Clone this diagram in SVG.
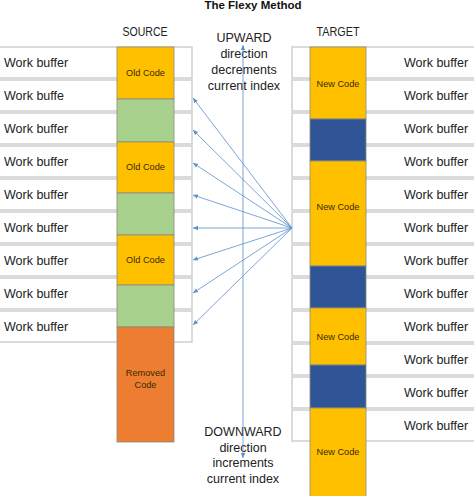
<svg xmlns="http://www.w3.org/2000/svg" width="474" height="496" viewBox="0 0 474 496">
<defs>
<marker id="ah" markerWidth="6" markerHeight="6" refX="5" refY="3" orient="auto" markerUnits="userSpaceOnUse">
<path d="M0,0.8 L5,3 L0,5.2 Z" fill="#5b8fc9"/>
</marker>
<style>
.row{fill:#fff;stroke:#cfcfcf;stroke-width:1.5}
.wb{font-family:"Liberation Sans",Arial,sans-serif;font-size:12.5px;fill:#222}
.hd{font-family:"Liberation Sans",Arial,sans-serif;font-size:12px;fill:#222;text-anchor:middle}
.small{font-family:"Liberation Sans",Arial,sans-serif;font-size:9.2px;fill:#3a2a00;text-anchor:middle}
.blk{stroke:#8a8a7a;stroke-width:0.8}
.old{fill:#ffc000}
.grn{fill:#a9d18e}
.rem{fill:#ed7d31}
.blu{fill:#2f5597}
.conn{stroke:#5b8fc9;stroke-width:0.8;fill:none}
.note{font-family:"Liberation Sans",Arial,sans-serif;font-size:12.5px;fill:#222;text-anchor:middle}
</style>
</defs>
<rect width="474" height="496" fill="#fff"/>
<text x="253" y="9" font-family="'Liberation Sans',Arial,sans-serif" font-size="11.5" font-weight="bold" text-anchor="middle" fill="#111">The Flexy Method</text>
<text class="hd" x="145" y="36" textLength="45" lengthAdjust="spacingAndGlyphs">SOURCE</text>
<text class="hd" x="338" y="36" textLength="43" lengthAdjust="spacingAndGlyphs">TARGET</text>

<g id="source-rows">
<rect class="row" x="-2" y="47" width="194" height="31"/>
<rect class="row" x="-2" y="80" width="194" height="31"/>
<rect class="row" x="-2" y="113" width="194" height="31"/>
<rect class="row" x="-2" y="146" width="194" height="31"/>
<rect class="row" x="-2" y="179" width="194" height="31"/>
<rect class="row" x="-2" y="212" width="194" height="31"/>
<rect class="row" x="-2" y="245" width="194" height="31"/>
<rect class="row" x="-2" y="278" width="194" height="31"/>
<rect class="row" x="-2" y="311" width="194" height="31"/>
<text class="wb" x="4" y="67">Work buffer</text>
<text class="wb" x="4" y="100">Work buffe</text>
<text class="wb" x="4" y="133">Work buffer</text>
<text class="wb" x="4" y="166">Work buffer</text>
<text class="wb" x="4" y="199">Work buffer</text>
<text class="wb" x="4" y="232">Work buffer</text>
<text class="wb" x="4" y="265">Work buffer</text>
<text class="wb" x="4" y="298">Work buffer</text>
<text class="wb" x="4" y="331">Work buffer</text>
</g>

<g id="source-column">
<rect class="blk old" x="117" y="47" width="57" height="52"/>
<rect class="blk grn" x="117" y="99" width="57" height="43"/>
<rect class="blk old" x="117" y="142" width="57" height="51"/>
<rect class="blk grn" x="117" y="193" width="57" height="42"/>
<rect class="blk old" x="117" y="235" width="57" height="50"/>
<rect class="blk grn" x="117" y="285" width="57" height="42"/>
<rect class="blk rem" x="117" y="327" width="57" height="115"/>
<text class="small" x="145.5" y="76">Old Code</text>
<text class="small" x="145.5" y="170">Old Code</text>
<text class="small" x="145.5" y="263">Old Code</text>
<text class="small" x="145.5" y="376">Removed</text>
<text class="small" x="145.5" y="388">Code</text>
</g>

<g id="target-rows">
<rect class="row" x="292" y="47" width="190" height="31"/>
<rect class="row" x="292" y="80" width="190" height="31"/>
<rect class="row" x="292" y="113" width="190" height="31"/>
<rect class="row" x="292" y="146" width="190" height="31"/>
<rect class="row" x="292" y="179" width="190" height="31"/>
<rect class="row" x="292" y="212" width="190" height="31"/>
<rect class="row" x="292" y="245" width="190" height="31"/>
<rect class="row" x="292" y="278" width="190" height="31"/>
<rect class="row" x="292" y="311" width="190" height="31"/>
<rect class="row" x="292" y="344" width="190" height="31"/>
<rect class="row" x="292" y="377" width="190" height="31"/>
<rect class="row" x="292" y="410" width="190" height="31"/>
<text class="wb" x="404" y="67">Work buffer</text>
<text class="wb" x="404" y="100">Work buffer</text>
<text class="wb" x="404" y="133">Work buffer</text>
<text class="wb" x="404" y="166">Work buffer</text>
<text class="wb" x="404" y="199">Work buffer</text>
<text class="wb" x="404" y="232">Work buffer</text>
<text class="wb" x="404" y="265">Work buffer</text>
<text class="wb" x="404" y="298">Work buffer</text>
<text class="wb" x="404" y="331">Work buffer</text>
<text class="wb" x="404" y="364">Work buffer</text>
<text class="wb" x="404" y="397">Work buffer</text>
<text class="wb" x="404" y="430">Work buffer</text>
</g>

<g id="target-column">
<rect class="blk old" x="310" y="47" width="56" height="72"/>
<rect class="blk blu" x="310" y="119" width="56" height="42"/>
<rect class="blk old" x="310" y="161" width="56" height="105"/>
<rect class="blk blu" x="310" y="266" width="56" height="42"/>
<rect class="blk old" x="310" y="308" width="56" height="57"/>
<rect class="blk blu" x="310" y="365" width="56" height="43"/>
<rect class="blk old" x="310" y="408" width="56" height="92"/>
<text class="small" x="338" y="87">New Code</text>
<text class="small" x="338" y="210">New Code</text>
<text class="small" x="338" y="340">New Code</text>
<text class="small" x="338" y="455">New Code</text>
</g>

<g id="notes">
<text class="note" x="244" y="42">UPWARD</text>
<text class="note" x="244" y="58">direction</text>
<text class="note" x="244" y="74">decrements</text>
<text class="note" x="244" y="90">current index</text>
<text class="note" x="243" y="436">DOWNWARD</text>
<text class="note" x="243" y="452">direction</text>
<text class="note" x="243" y="467">increments</text>
<text class="note" x="243" y="483">current index</text>
</g>

<g id="connectors">
<line class="conn" x1="243" y1="250" x2="243" y2="45" marker-end="url(#ah)"/>
<line class="conn" x1="243" y1="250" x2="243" y2="458" marker-end="url(#ah)"/>
<line class="conn" x1="292" y1="228" x2="193" y2="98" marker-end="url(#ah)"/>
<line class="conn" x1="292" y1="228" x2="193" y2="130" marker-end="url(#ah)"/>
<line class="conn" x1="292" y1="228" x2="193" y2="163" marker-end="url(#ah)"/>
<line class="conn" x1="292" y1="228" x2="193" y2="195" marker-end="url(#ah)"/>
<line class="conn" x1="292" y1="228" x2="193" y2="228" marker-end="url(#ah)"/>
<line class="conn" x1="292" y1="228" x2="193" y2="260" marker-end="url(#ah)"/>
<line class="conn" x1="292" y1="228" x2="193" y2="293" marker-end="url(#ah)"/>
<line class="conn" x1="292" y1="228" x2="193" y2="325" marker-end="url(#ah)"/>
</g>
</svg>
